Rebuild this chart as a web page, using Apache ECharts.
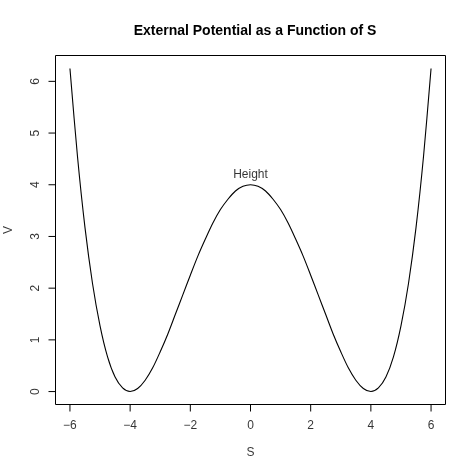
<!DOCTYPE html>
<html>
<head>
<meta charset="utf-8">
<script src="https://cdn.jsdelivr.net/npm/echarts@6/dist/echarts.min.js"></script>
<style>
  html, body { margin: 0; padding: 0; background: #fff; }
  #chart { width: 474px; height: 474px; }
</style>
</head>
<body>
<div id="chart"></div>
<script>
// === Data === //
const sValues = [
  -6, -5.75, -5.5, -5.25, -5, -4.75, -4.5, -4.25, -4, -3.75, -3.5, -3.25, -3,
  -2.75, -2.5, -2.25, -2, -1.75, -1.5, -1.25, -1, -0.75, -0.5, -0.25, 0,
  0.25, 0.5, 0.75, 1, 1.25, 1.5, 1.75, 2, 2.25, 2.5, 2.75, 3,
  3.25, 3.5, 3.75, 4, 4.25, 4.5, 4.75, 5, 5.25, 5.5, 5.75, 6
]
const vValues = [
  6.25, 4.55, 3.17, 2.09, 1.27, 0.67, 0.28, 0.07, 0, 0.06, 0.22, 0.46, 0.77,
  1.11, 1.49, 1.87, 2.25, 2.62, 2.95, 3.26, 3.52, 3.72, 3.88, 3.97, 4,
  3.97, 3.88, 3.72, 3.52, 3.26, 2.95, 2.62, 2.25, 1.87, 1.49, 1.11, 0.77,
  0.46, 0.22, 0.06, 0, 0.07, 0.28, 0.67, 1.27, 2.09, 3.17, 4.55, 6.25
]
const xTicks = [-6, -4, -2, 0, 2, 4, 6]
const yTicks = [0, 1, 2, 3, 4, 5, 6]
const annotation = { s: 0, v: 4.2, text: 'Height' }

// frame extents (R pads the data range by 4%)
const xMin = -6.48, xMax = 6.48
const yMin = -0.25, yMax = 6.5

// === Layout === //
const W = 474, H = 474
const plot = { left: 55.5, right: 445.5, top: 55.5, bottom: 404.5 }
const tickLen = 7

// the grid covers the whole canvas, so the frame, ticks and labels all live inside it
const xUnit = (plot.right - plot.left) / (xMax - xMin)
const yUnit = (plot.bottom - plot.top) / (yMax - yMin)
const px = n => n / xUnit
const py = n => n / yUnit
const gx0 = xMin - px(plot.left), gx1 = xMax + px(W - plot.right)
const gy0 = yMin - py(H - plot.bottom), gy1 = yMax + py(plot.top)

const font = 'Liberation Sans, Arial, Helvetica, sans-serif'
const minus = v => String(v).replace('-', '\u2212')

var myChart = echarts.init(document.getElementById('chart'))

const lineBase = {
  type: 'line',
  silent: true,
  showSymbol: false,
  lineStyle: { color: '#000', width: 1 }
}

const textSeries = (data, formatter, rotate) => ({
  type: 'scatter',
  silent: true,
  symbolSize: 0,
  data,
  label: {
    show: true,
    position: 'inside',
    formatter,
    rotate,
    fontFamily: font,
    fontSize: 12,
    color: '#000'
  }
})

const frame = {
  ...lineBase,
  data: [[xMin, yMin], [xMax, yMin], [xMax, yMax], [xMin, yMax], [xMin, yMin]]
}
const xTickLines = map => xTicks.map(t => ({ ...lineBase, data: [[t, yMin], [t, yMin - py(tickLen)]] }))
const yTickLines = () => yTicks.map(t => ({ ...lineBase, data: [[xMin, t], [xMin - px(tickLen), t]] }))

myChart.setOption({
  animation: false,
  title: {
    text: 'External Potential as a Function of S',
    left: 250,
    top: 19,
    textAlign: 'center',
    textStyle: { fontFamily: font, fontSize: 14, fontWeight: 'bold', color: '#000' }
  },
  grid: {
    left: 0,
    right: 0,
    top: 0,
    bottom: 0,
    containLabel: false,
    outerBoundsMode: 'none'
  },
  xAxis: { type: 'value', min: gx0, max: gx1, show: false },
  yAxis: { type: 'value', min: gy0, max: gy1, show: false },
  series: [
    {
      ...lineBase,
      data: sValues.map((s, i) => [s, vValues[i]]),
      smooth: 0.3,
      lineStyle: { color: '#000', width: 1.1 }
    },
    frame,
    ...xTickLines(),
    ...yTickLines(),
    textSeries(xTicks.map(t => [t, yMin - py(21)]), p => minus(xTicks[p.dataIndex]), 0),
    textSeries(yTicks.map(t => [xMin - px(20), t]), p => String(yTicks[p.dataIndex]), 90),
    textSeries([[0, yMin - py(48)]], 'S', 0),
    textSeries([[xMin - px(47), (yMin + yMax) / 2]], 'V', 90),
    textSeries([[annotation.s, annotation.v]], annotation.text, 0)
  ]
})
</script>
</body>
</html>
